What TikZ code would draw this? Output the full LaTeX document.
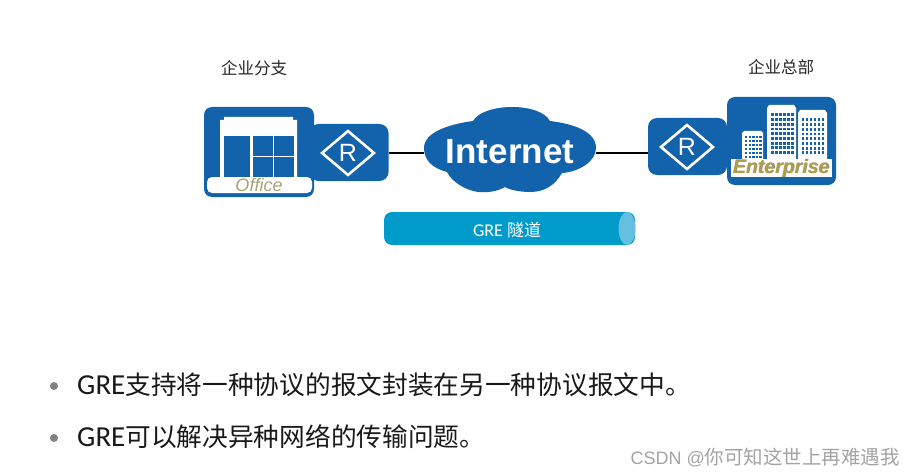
\documentclass[tikz,border=0pt]{standalone}
\usepackage{fontspec}
\setmainfont{Carlito}
\newfontfamily\cjkfont{Noto Sans CJK SC}
\newfontfamily\arialfont{Liberation Sans}
\usetikzlibrary{shapes.geometric}
\definecolor{hwblue}{HTML}{1363AC}
\definecolor{tubeblue}{HTML}{009BCB}
\definecolor{tubeend}{HTML}{67BFE0}
\definecolor{olivetext}{HTML}{A8A377}
\definecolor{goldtext}{HTML}{B09F45}
\definecolor{markgray}{HTML}{A3A3A3}
\tikzset{
  routerbox/.style={fill=hwblue,rounded corners=9pt,minimum width=79pt,minimum height=57pt,inner sep=0pt},
  routermark/.style={diamond,draw=white,line width=2.6pt,aspect=1.17,minimum width=53pt,minimum height=45pt,inner sep=0pt,
    text=white,font=\arialfont\fontsize{25}{25}\selectfont},
  sitelabel/.style={font=\cjkfont\fontsize{16.5}{17}\selectfont,text=black!85},
  bullettext/.style={anchor=west,inner sep=0pt,text=black!90},
  bulletdot/.style={circle,fill=black!50,minimum size=8pt,inner sep=0pt},
  wire/.style={line width=2pt,black},
}
\newcommand{\bodyfont}{\fontsize{29}{29}\selectfont}
\newcommand{\bodycjk}{\cjkfont\fontsize{25.7}{26}\selectfont}
\begin{document}
\begin{tikzpicture}[x=1pt,y=-1pt]
    \useasboundingbox (0,0) rectangle (915,476);

    % 1. Routers and the cloud, wires go under the icons
    \node[routerbox] (routerL) at (349,152.5) {};
    \node[routerbox] (routerR) at (687.5,146.5) {};
    \node[routermark] (markL) at (348,153) {R};
    \node[routermark] (markR) at (687,147) {R};

    \fill[hwblue] (424,148) .. controls (424,132) and (450,124) .. (473,121)
      .. controls (478,112) and (495,107) .. (512,107)
      .. controls (530,107) and (545,112) .. (550,121)
      .. controls (575,124) and (596,132) .. (596,148)
      .. controls (596,162) and (578,172) .. (562,173)
      .. controls (555,185) and (545,192) .. (530,192)
      .. controls (520,192) and (510,190) .. (505,187)
      .. controls (498,191) and (488,193) .. (478,192)
      .. controls (465,190) and (452,182) .. (447,172)
      .. controls (432,168) and (424,160) .. (424,148) -- cycle;
    \node[minimum width=172pt,minimum height=85pt,inner sep=0pt,text=white,
      font=\arialfont\bfseries\fontsize{35}{35}\selectfont] (internet) at (510,152.5) {\raisebox{2pt}{Internet}};

    % 2. Wires
    \draw[wire] (routerL.east) -- (internet.west);
    \draw[wire] (internet.east) -- (internet.east -| routerR.west);

    % 3. Office icon
    \fill[hwblue,rounded corners=8pt] (204,107) rectangle (314,197);
    \fill[white] (220,177) -- (220,120) -- (224,120) -- (224,117) -- (293,117) -- (293,120) -- (297,120) -- (297,177) -- cycle;
    \fill[white,rounded corners=5pt] (207,177) -- (312,177) -- (312,193) -- (207,193) -- cycle;
    \fill[hwblue] (224,136) rectangle (250,177);
    \foreach \gx in {253,274}
      \foreach \gy in {136,157}
        \fill[hwblue] (\gx,\gy) rectangle ++(19.5,19.5);
    \node[font=\arialfont\itshape\fontsize{18}{18}\selectfont,text=olivetext,inner sep=0pt] (office) at (259,185) {Office};

    % 4. Enterprise icon
    \fill[hwblue,rounded corners=8pt] (727,97) rectangle (836,185);
    \fill[white] (742,133) -- (744,131) -- (761,131) -- (763,133) -- (763,160) -- (742,160) -- cycle;
    \fill[white] (767,108) -- (769,105) -- (794,105) -- (796,108) -- (796,160) -- (767,160) -- cycle;
    \fill[white] (798,113) -- (800,110) -- (825,110) -- (827,113) -- (827,160) -- (798,160) -- cycle;
    \foreach \gx in {0,...,4}
      \foreach \gy in {0,...,5}
        \fill[hwblue] (745+\gx*3.6,136+\gy*3.9) rectangle ++(2.4,2.4);
    \foreach \gx in {0,...,5}
      \foreach \gy in {0,...,8}
        \fill[hwblue] (771+\gx*4,113.5+\gy*4.7) rectangle ++(2.6,2.8);
    \foreach \gx in {0,...,5}
      \foreach \gy in {0,...,7}
        \fill[hwblue] (801.5+\gx*4,118.5+\gy*4.7) rectangle ++(2.6,2.8);
    \fill[white] (731,159) rectangle (832,177);
    \node[font=\arialfont\bfseries\itshape\fontsize{19.5}{20}\selectfont,text=black!45,inner sep=0pt] (enterpriseshade) at (781.7,168.7) {Enterprise};
    \node[font=\arialfont\bfseries\itshape\fontsize{19.5}{20}\selectfont,text=goldtext,inner sep=0pt] (enterprise) at (781,168) {Enterprise};

    % 5. Tunnel
    \node[fill=tubeblue,rounded corners=8pt,minimum width=251pt,minimum height=33pt,inner sep=0pt] (tunnel) at (509.5,228.5) {};
    \fill[tubeend] (627,228.5) ellipse (8.5 and 16.5);
    \node[text=white,inner sep=0pt,font=\fontsize{18}{18}\selectfont] (tunneltext) at (507,230) {GRE {\cjkfont\fontsize{17}{17}\selectfont 隧道}};

    % 6. Site labels
    \node[sitelabel] (branch) at (254,68) {企业分支};
    \node[sitelabel] (head) at (781,67) {企业总部};

    % 7. Bullets
    \node[bulletdot] (dotA) at (54,386) {};
    \node[bulletdot] (dotB) at (54,438) {};
    \node[bullettext,font=\bodyfont] (lineA) at (77,385) {GRE{\bodycjk 支持将一种协议的报文封装在另一种协议报文中。}};
    \node[bullettext,font=\bodyfont] (lineB) at (77,437) {GRE{\bodycjk 可以解决异种网络的传输问题。}};

    % 8. Watermark
    \node[anchor=east,inner sep=0pt,text=markgray,font=\arialfont\fontsize{18}{18}\selectfont] (watermark) at (900,457) {CSDN @{\cjkfont\fontsize{19.5}{19.5}\selectfont 你可知这世上再难遇我}};

\end{tikzpicture}
\end{document}
